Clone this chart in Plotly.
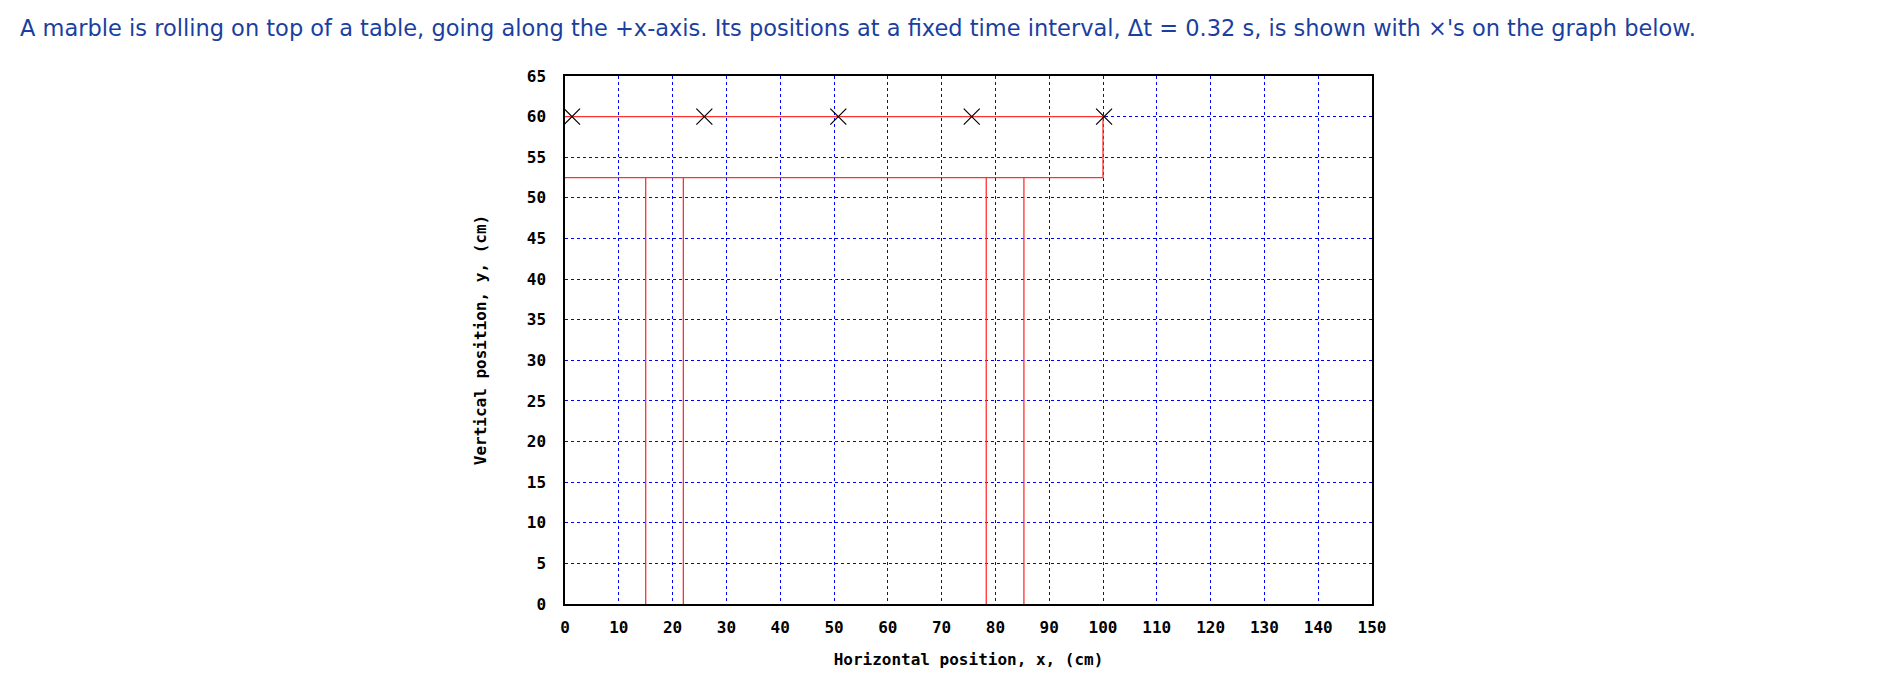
import plotly.graph_objects as go

marker_x = [1.3, 25.9, 50.8, 75.6, 100.2]
marker_y = [60, 60, 60, 60, 60]
table_top_y = 60
table_bottom_y = 52.5
table_right_x = 100
leg_x = [15, 22, 78.3, 85.3]
x_ticks = list(range(0, 151, 10))
y_ticks = list(range(0, 66, 5))

L, R, T, B = 557, 518, 68, 85
W, H = 1882, 681
pw, ph = W - L - R, H - T - B

fig = go.Figure()
fig.add_trace(go.Scatter(x=[0, table_right_x, table_right_x, 0],
                         y=[table_top_y, table_top_y, table_bottom_y, table_bottom_y],
                         mode="lines", line=dict(color="#ff3030", width=1.3), hoverinfo="skip"))
for lx in leg_x:
    fig.add_trace(go.Scatter(x=[lx, lx], y=[table_bottom_y, 0], mode="lines",
                             line=dict(color="#ff3030", width=1.3), hoverinfo="skip"))
fig.add_trace(go.Scatter(x=marker_x, y=marker_y, mode="markers",
                         marker=dict(symbol="x-thin", size=16, line=dict(color="black", width=1.2))))

tickfont = dict(family="DejaVu Sans Mono", size=16, color="black", weight="bold")
fig.update_layout(
    width=W, height=H, showlegend=False,
    plot_bgcolor="white", paper_bgcolor="white",
    margin=dict(l=L, r=R, t=T, b=B),
    xaxis=dict(range=[0, 150], tickvals=x_ticks, showgrid=True, gridcolor="#0000ff",
               griddash="dot", gridwidth=1, zeroline=False, showline=True, linecolor="black",
               mirror=True, linewidth=1.5, ticks="", ticklabelstandoff=8, tickfont=tickfont,
               title=dict(text="Horizontal position, x, (cm)", font=tickfont, standoff=18)),
    yaxis=dict(range=[0, 65], tickvals=y_ticks, showgrid=True, gridcolor="#0000ff",
               griddash="dot", gridwidth=1, zeroline=False, showline=True, linecolor="black",
               mirror=True, linewidth=1.5, ticks="", ticklabelstandoff=14, tickfont=tickfont,
               title=dict(text="Vertical position, y, (cm)", font=tickfont, standoff=36)),
)
fig.add_annotation(text="A marble is rolling on top of a table, going along the +x-axis. Its positions at a fixed time interval, Δt = 0.32 s, is shown with ×'s on the graph below.",
                   xref="paper", yref="paper", x=(10 - L) / pw, y=1 + (T - 20) / ph,
                   xanchor="left", yanchor="middle",
                   showarrow=False, font=dict(family="DejaVu Sans", size=22.5, color="#1a3fa0"))
fig.write_html("out.html")
